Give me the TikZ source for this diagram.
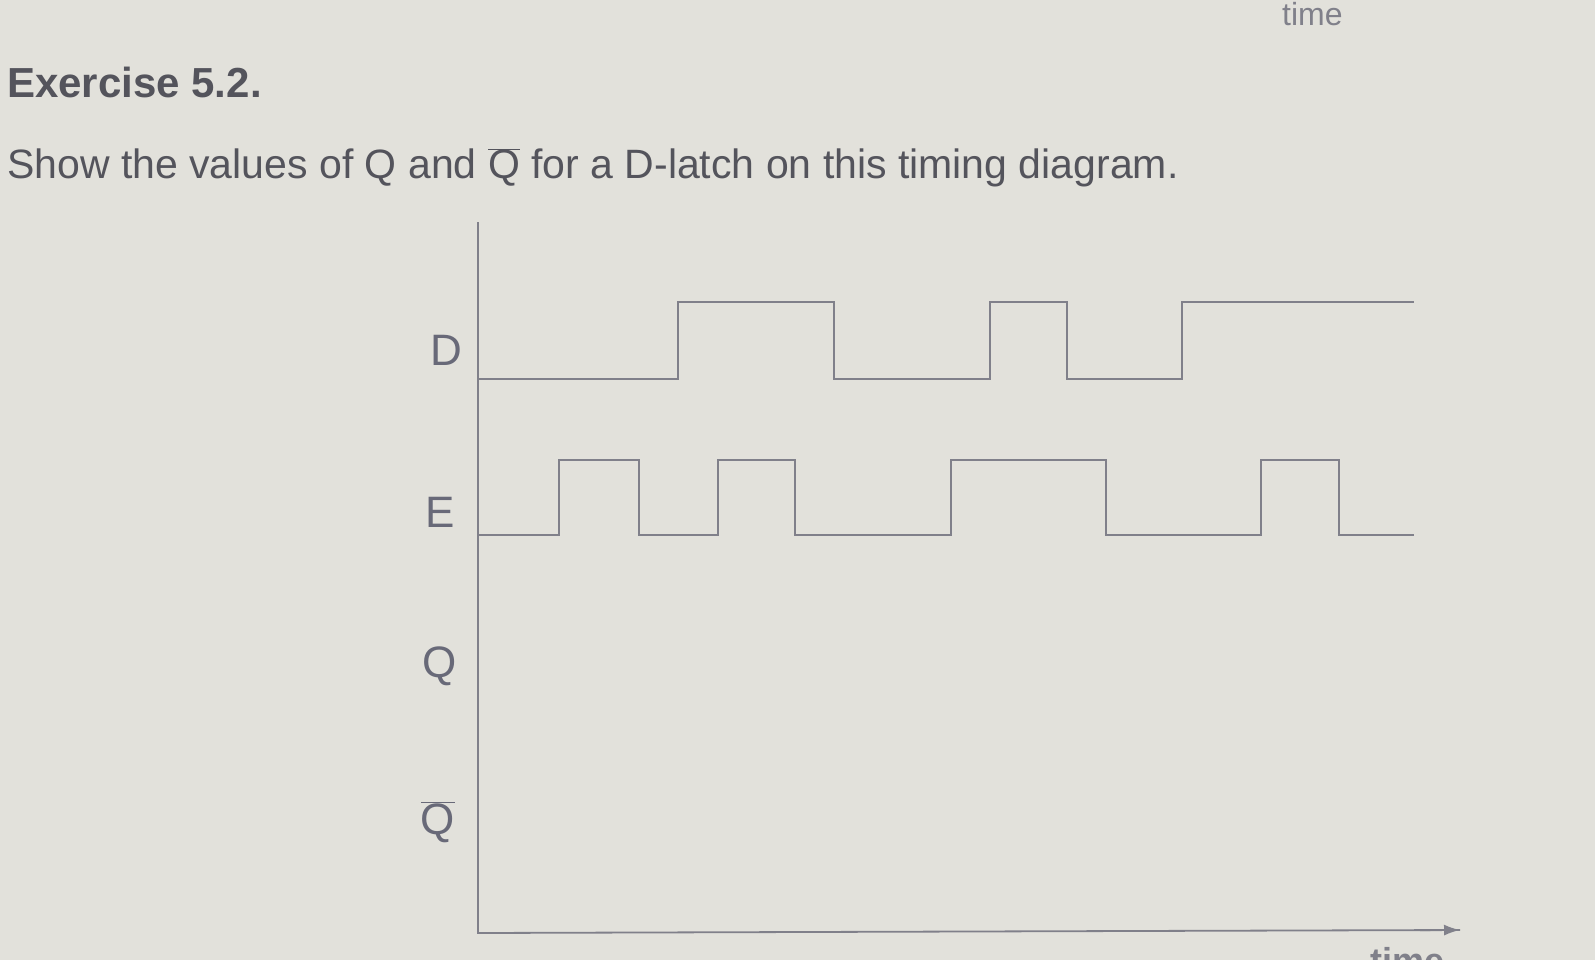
\documentclass[tikz,border=0pt]{standalone}
\usepackage{fontspec}
\setmainfont{Liberation Sans}
\usetikzlibrary{arrows.meta}
\definecolor{paper}{RGB}{226,225,219}
\definecolor{ink}{RGB}{84,84,92}
\definecolor{wire}{RGB}{128,128,138}
\definecolor{lbl}{RGB}{104,105,120}
\newcommand{\qbar}{\ensuremath{\overline{\mbox{Q}}}}
\begin{document}
\begin{tikzpicture}[x=1pt,y=-1pt,
    wave/.style={draw=wire,line width=1.8pt},
    lab/.style={text=lbl,inner sep=0pt,font=\fontsize{44}{50}\selectfont}]
  \useasboundingbox (0,0) rectangle (1595,960);
  \fill[paper] (0,0) rectangle (1595,960);
  % heading
  \node[anchor=base west,inner sep=0pt,text=ink,font=\bfseries\fontsize{42}{48}\selectfont]
    (title) at (7,98) {Exercise 5.2.};
  \node[anchor=base west,inner sep=0pt,text=ink,font=\fontsize{41}{48}\selectfont]
    (task) at (7,179) {Show the values of Q and \qbar{} for a D-latch on this timing diagram.};
  \node[anchor=base west,inner sep=0pt,text=wire,font=\fontsize{32}{36}\selectfont]
    (time1) at (1282,26) {time};
  \node[anchor=base west,inner sep=0pt,text=wire,font=\bfseries\fontsize{36}{40}\selectfont]
    (time2) at (1370,973) {time};
  % signal names
  \node[lab] (dlab) at (446,350) {D};
  \node[lab] (elab) at (440,512) {E};
  \node[lab] (qlab) at (440,666) {Q};
  \node[lab] (qblab) at (438,822) {\qbar};
  % axes
  \coordinate (top) at (478,222);
  \coordinate (org) at (478,933);
  \coordinate (tip) at (1460,930);
  \draw[wave] (top) -- (org) -- (tip);
  \draw[wire,-{Latex[length=16pt,width=11pt]},line width=1.8pt] (1420,930.2) -- (tip);
  % D and E
  \draw[wave] (478,379) -- (678,379) |- (834,302) |- (990,379) |- (1067,302)
    |- (1182,379) |- (1414,302);
  \draw[wave] (478,535) -- (559,535) |- (639,460) |- (718,535) |- (795,460)
    |- (951,535) |- (1106,460) |- (1261,535) |- (1339,460) |- (1414,535);
\end{tikzpicture}
\end{document}
